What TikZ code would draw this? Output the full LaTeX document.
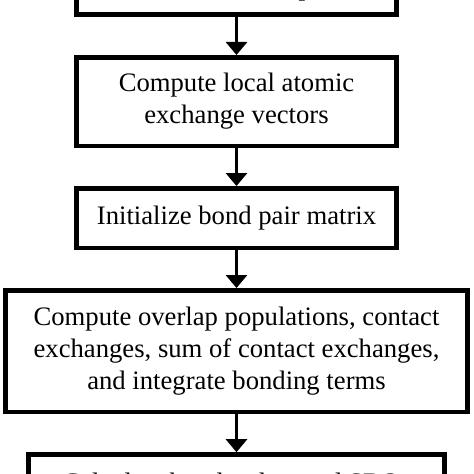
\documentclass[tikz,border=0pt]{standalone}
\usepackage{fontspec}
\setmainfont{Liberation Serif}
\usetikzlibrary{positioning,arrows.meta}

\begin{document}
\begin{tikzpicture}[
        x=0.375pt, y=0.375pt,
        node distance=14.2pt,
        process/.style = {shape=rectangle, draw, line width=1.75pt, align=center, inner sep=2pt, minimum width=120.2pt, minimum height=22.3pt},
        flow/.style = {-{Triangle[width=7.9pt, length=4.9pt]}, line width=1.1pt}
    ]
        \useasboundingbox (0,0) rectangle (474,-474);
        \clip (0,0) rectangle (474,-474);
        \node[process, minimum height=33.2pt, anchor=north] (local) at (236.5,-55) {Compute local atomic\\exchange vectors};
        \node[process, minimum height=19.4pt, above=of local] (input) {Read orbital input};
        \node[process, below=of local] (pair) {Initialize bond pair matrix};
        \node[process, minimum width=173.4pt, minimum height=45.6pt, below=of pair] (overlap) {Compute overlap populations, contact\\exchanges, sum of contact exchanges,\\and integrate bonding terms};
        \node[process, minimum width=155.8pt, minimum height=21pt, below=of overlap] (orders) {Calculate bond orders and SBOs};
        \draw[flow] (input) -- (local);
        \draw[flow] (local) -- (pair);
        \draw[flow] (pair) -- (overlap);
        \draw[flow] (overlap) -- (orders);
    \end{tikzpicture}
\end{document}
